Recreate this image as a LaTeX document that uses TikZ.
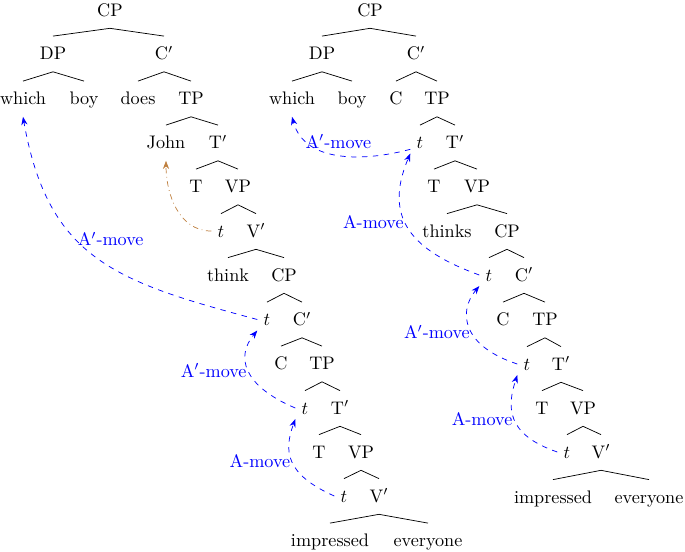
\documentclass[tikz,border=0pt]{standalone}
\usetikzlibrary{arrows.meta}
\begin{document}
\begin{tikzpicture}[x=0.55pt,y=0.55pt,
  tn/.style={text height=8.8pt,text depth=1.94pt,inner xsep=3.33pt,inner ysep=0.5pt},
  tedge/.style={line width=0.4pt},
  tip/.style={-{Stealth[length=4.5pt,width=3.4pt]}},
  mv/.style={blue,dashed,tip},
  lbl/.style={blue,inner sep=0.8pt}]
\useasboundingbox (0,0) rectangle (685,-551);
% left tree
\node[tn] (lCP) at (110,-10) {CP};
\node[tn] (lDP) at (53,-53.5) {DP};
\node[tn] (lCb) at (164,-53.5) {C$'$};
\node[tn] (lwhich) at (23,-98.5) {which};
\node[tn] (lboy) at (84,-98.5) {boy};
\node[tn] (ldoes) at (138,-98.5) {does};
\node[tn] (lTP1) at (191,-98.5) {TP};
\node[tn] (lJohn) at (166,-142.5) {John};
\node[tn] (lTb1) at (218,-142.5) {T$'$};
\node[tn] (lT1) at (196,-186.5) {T};
\node[tn] (lVP1) at (238,-186.5) {VP};
\node[tn] (lt0) at (221,-231) {$t$};
\node[tn] (lVb1) at (256,-231) {V$'$};
\node[tn] (lthink) at (228,-275) {think};
\node[tn] (lCP2) at (284,-275) {CP};
\node[tn] (lt1) at (267,-319.5) {$t$};
\node[tn] (lCb2) at (302,-319.5) {C$'$};
\node[tn] (lC) at (281,-363.5) {C};
\node[tn] (lTP2) at (322,-363.5) {TP};
\node[tn] (lt2) at (305,-408) {$t$};
\node[tn] (lTb2) at (340,-408) {T$'$};
\node[tn] (lT2) at (319,-452) {T};
\node[tn] (lVP2) at (361,-452) {VP};
\node[tn] (lt3) at (344,-496) {$t$};
\node[tn] (lVb2) at (379,-496) {V$'$};
\node[tn] (limp) at (330,-540.5) {impressed};
\node[tn] (lev) at (428,-540.5) {everyone};
% right tree
\node[tn] (rCP) at (370,-10) {CP};
\node[tn] (rDP) at (322,-53.5) {DP};
\node[tn] (rCb) at (416,-53.5) {C$'$};
\node[tn] (rwhich) at (292,-98.5) {which};
\node[tn] (rboy) at (352,-98.5) {boy};
\node[tn] (rC1) at (396,-98.5) {C};
\node[tn] (rTP1) at (437,-98.5) {TP};
\node[tn] (rt0) at (420,-142.5) {$t$};
\node[tn] (rTb1) at (455,-142.5) {T$'$};
\node[tn] (rT1) at (434,-186.5) {T};
\node[tn] (rVP1) at (477,-186.5) {VP};
\node[tn] (rthinks) at (447,-231) {thinks};
\node[tn] (rCP2) at (507,-231) {CP};
\node[tn] (rt1) at (489,-275) {$t$};
\node[tn] (rCb2) at (524,-275) {C$'$};
\node[tn] (rC2) at (503,-319.5) {C};
\node[tn] (rTP2) at (545,-319.5) {TP};
\node[tn] (rt2) at (527,-364) {$t$};
\node[tn] (rTb2) at (561,-364) {T$'$};
\node[tn] (rT2) at (542,-408) {T};
\node[tn] (rVP2) at (583,-408) {VP};
\node[tn] (rt3) at (567,-452) {$t$};
\node[tn] (rVb) at (601,-452) {V$'$};
\node[tn] (rimp) at (553,-497) {impressed};
\node[tn] (rev) at (649,-497) {everyone};
% tree edges
\foreach \p/\c in {lCP/lDP,lCP/lCb,lDP/lwhich,lDP/lboy,lCb/ldoes,lCb/lTP1,
  lTP1/lJohn,lTP1/lTb1,lTb1/lT1,lTb1/lVP1,lVP1/lt0,lVP1/lVb1,lVb1/lthink,lVb1/lCP2,
  lCP2/lt1,lCP2/lCb2,lCb2/lC,lCb2/lTP2,lTP2/lt2,lTP2/lTb2,lTb2/lT2,lTb2/lVP2,
  lVP2/lt3,lVP2/lVb2,lVb2/limp,lVb2/lev,
  rCP/rDP,rCP/rCb,rDP/rwhich,rDP/rboy,rCb/rC1,rCb/rTP1,rTP1/rt0,rTP1/rTb1,
  rTb1/rT1,rTb1/rVP1,rVP1/rthinks,rVP1/rCP2,rCP2/rt1,rCP2/rCb2,rCb2/rC2,rCb2/rTP2,
  rTP2/rt2,rTP2/rTb2,rTb2/rT2,rTb2/rVP2,rVP2/rt3,rVP2/rVb,rVb/rimp,rVb/rev}
  \draw[tedge] ([yshift=-4pt]\p.south) -- ([yshift=3.5pt]\c.north);
% movement arrows, left tree
\draw[brown,dashdotted,tip] (lt0.west) to[out=180,in=-90] ([yshift=-4pt]lJohn.south);
\draw[mv] (lt1.west) to[out=165,in=-80,looseness=1.2]
  node[lbl,pos=0.6,anchor=west]{A$'$-move} ([yshift=-4pt]lwhich.south);
\draw[mv] (lt2.west) to[out=157,in=-130,out looseness=1.7,in looseness=1]
  node[lbl,pos=0.5,anchor=east]{A$'$-move} (lt1.south west);
\draw[mv] (lt3.west) to[out=156,in=-110,out looseness=1.6,in looseness=1]
  node[lbl,pos=0.5,anchor=east]{A-move} (lt2.south west);
% movement arrows, right tree
\draw[mv] (rt0.215) to[out=195,in=-75]
  node[blue,pos=0.5,above]{A$'$-move} ([yshift=-4pt]rwhich.south);
\draw[mv] (rt1.west) to[out=160,in=-113,looseness=1.3]
  node[lbl,pos=0.56,anchor=east]{A-move} (rt0.south west);
\draw[mv] (rt2.west) to[out=162,in=-130,out looseness=1.7,in looseness=1]
  node[lbl,pos=0.45,anchor=east]{A$'$-move} (rt1.south west);
\draw[mv] (rt3.west) to[out=161,in=-108,out looseness=1.6,in looseness=1]
  node[lbl,pos=0.5,anchor=east]{A-move} (rt2.south west);
\end{tikzpicture}
\end{document}
